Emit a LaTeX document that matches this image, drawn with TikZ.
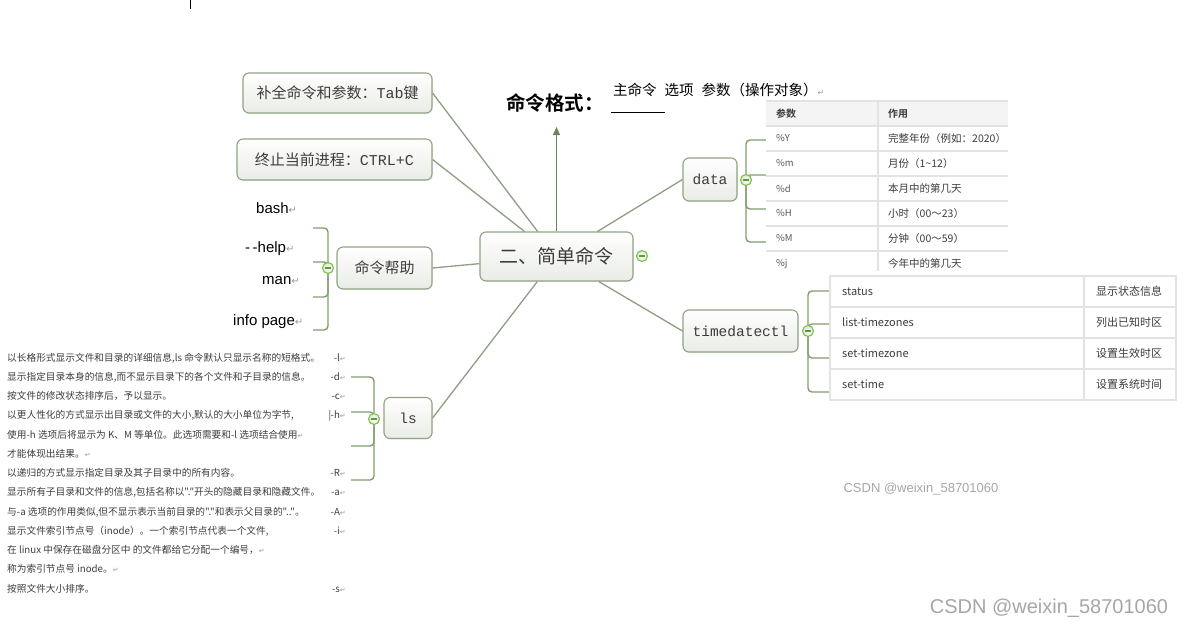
\documentclass[tikz,border=0pt]{standalone}
\usepackage{fontspec}
\setmainfont{Liberation Sans}
\newfontfamily\cjk{Noto Sans CJK SC}
\newfontfamily\cjkb{Noto Sans CJK SC Bold}
\newfontfamily\monof{Liberation Mono}
\newfontfamily\symf{DejaVu Sans}
\usetikzlibrary{arrows.meta,positioning,calc,shadows}
\definecolor{topicline}{HTML}{8FA382}
\definecolor{topicbot}{HTML}{E9ECE6}
\definecolor{linkgreen}{HTML}{8E9E82}
\definecolor{brkgreen}{HTML}{7F9C6C}
\definecolor{foldgreen}{HTML}{7DBE4E}
\definecolor{inkgray}{HTML}{3C3C3C}
\definecolor{retgray}{HTML}{9A9A9A}
\definecolor{tblgray}{HTML}{E3E3E3}
\definecolor{headgray}{HTML}{F4F4F4}
\definecolor{wmgray}{HTML}{A6A6A6}
\newcommand{\ret}[1][7]{{\color{retgray}\symf\fontsize{#1}{#1}\selectfont ↵}}
\tikzset{
  topicbox/.style={draw=topicline, line width=1.1pt, rounded corners=6pt,
                   top color=white, bottom color=topicbot, inner sep=0pt,
                   text=inkgray, font=\cjk\fontsize{15}{18}\selectfont,
                   drop shadow={opacity=0.12, shadow xshift=1pt, shadow yshift=-1pt}},
  monobox/.style={topicbox, font=\monof\fontsize{14.5}{16}\selectfont},
  foldbtn/.style={circle, draw=foldgreen, line width=1.1pt, inner color=white,
                  outer color=foldgreen!30, minimum size=11pt, inner sep=0pt,
                  path picture={\draw[foldgreen!80!black, line width=1.5pt]
                    ([xshift=-3pt]path picture bounding box.center) --
                    ([xshift=3pt]path picture bounding box.center);}},
  link/.style={draw=linkgreen, line width=1.3pt},
  brk/.style={draw=brkgreen, line width=1.4pt, rounded corners=4pt},
  uparr/.style={-{Triangle[length=8pt,width=7pt]}, line width=1.3pt, draw=brkgreen!85!black},
  leaf/.style={inner sep=0pt, text=black, font=\fontsize{15}{18}\selectfont},
  lstext/.style={inner sep=0pt, text=inkgray, font=\cjk\fontsize{9.7}{11}\selectfont},
  tblline/.style={draw=tblgray, line width=1.5pt},
  cellhead/.style={anchor=west, inner sep=0pt, text=inkgray, font=\cjkb\fontsize{10}{12}\selectfont},
  cellkey/.style={anchor=west, inner sep=0pt, text=inkgray!85, font=\cjk\fontsize{9.5}{11}\selectfont},
  cellval/.style={anchor=west, inner sep=0pt, text=inkgray, font=\cjk\fontsize{10.5}{12}\selectfont},
  tdccell/.style={anchor=west, inner sep=0pt, text=inkgray, font=\cjk\fontsize{11}{13}\selectfont},
  wm/.style={inner sep=0pt, text=wmgray}}
\begin{document}
\begin{tikzpicture}[x=1pt,y=-1pt]
\useasboundingbox (0,0) rectangle (1184,627);
\draw[line width=0.8pt] (190,0) -- (190,9);

% topics
\node[topicbox, minimum width=153pt, minimum height=49pt,
      font=\cjk\fontsize{19}{22}\selectfont] (main) at (556.5,256.5) {二、简单命令};
\node[topicbox, minimum width=189pt, minimum height=40pt] (tab) at (337.5,93)
  {补全命令和参数：{\monof Tab}键};
\node[topicbox, minimum width=195pt, minimum height=41pt] (ctrl) at (334.5,159.5)
  {终止当前进程：{\monof CTRL+C}};
\node[topicbox, minimum width=95pt, minimum height=42pt] (help) at (384.5,268) {命令帮助};
\node[monobox, minimum width=48pt, minimum height=41pt] (ls) at (408,418) {ls};
\node[monobox, minimum width=54pt, minimum height=43pt] (data) at (710,179.5) {data};
\node[monobox, minimum width=115pt, minimum height=42pt] (tdc) at (740.5,331) {timedatectl};

\draw[link] (tab.east) -- (main);
\draw[link] (ctrl.east) -- (main);
\draw[link] (help.east) -- (main);
\draw[link] (ls.east) -- (main);
\draw[link] (main) -- (data.west);
\draw[link] (main) -- (tdc.west);

% command format
\coordinate (fmttip) at (556.5,127);
\draw[uparr] (main.north) -- (fmttip);
\node[anchor=base west, inner sep=0pt, font=\cjkb\fontsize{19.5}{22}\selectfont] (fmt) at (506,110) {命令格式：};
\draw[line width=1pt] (611,112) -- (665,112);
\node[anchor=base west, inner sep=0pt, font=\cjk\fontsize{14.5}{16}\selectfont] (syn) at (613,95)
  {主命令\hspace{8pt}选项\hspace{8pt}参数（操作对象）\ret[8]};

% branch brackets
\coordinate (helproot) at (328,268);
\coordinate (lsroot) at (374,419);
\coordinate (dataroot) at (746,180);
\coordinate (tdcroot) at (808,331);
\foreach \y [count=\i] in {228,262,297,330} {
  \coordinate (hleaf\i) at (313,\y);
  \draw[brk] (helproot) |- (hleaf\i);
}
\foreach \y [count=\i] in {377,412,446,480} {
  \coordinate (lleaf\i) at (351,\y);
  \draw[brk] (lsroot) |- (lleaf\i);
}
\foreach \y [count=\i] in {140,175,209,242} {
  \coordinate (dleaf\i) at (768,\y);
  \draw[brk] (dataroot) |- (dleaf\i);
}
\foreach \y [count=\i] in {291,324,358,392} {
  \coordinate (tleaf\i) at (832,\y);
  \draw[brk] (tdcroot) |- (tleaf\i);
}
\node[foldbtn] (mainfold) at (642,256) {};
\node[foldbtn] (helpfold) at (helproot) {};
\node[foldbtn] (lsfold) at (lsroot) {};
\node[foldbtn] (datafold) at (dataroot) {};
\node[foldbtn] (tdcfold) at (tdcroot) {};

% help leaves
\node[leaf, anchor=base west] (hbash) at (256,213.5) {bash\ret[10]};
\node[leaf, anchor=base west] (hhelp) at (245,252) {-\,-help\ret[10]};
\node[leaf, anchor=base west] (hman) at (262,284.5) {man\ret[10]};
\node[leaf, anchor=base west] (hinfo) at (233,325) {info page\ret[10]};

% date table
\fill[white] (766,101) rectangle (1008,271);
\fill[headgray] (766,101) rectangle (1008,126);
\draw[tblline] (766,101) -- (1008,101);
\foreach \y in {126,151,176,201,226,251} \draw[tblline] (766,\y) -- (1008,\y);
\draw[tblline] (878,101) -- (878,271);
\node[cellhead] (dh1) at (776,113.5) {参数};
\node[cellhead] (dh2) at (888,113.5) {作用};
\foreach \k/\v [count=\i] in {\%Y/{完整年份（例如：2020）}, \%m/{月份（1\textasciitilde12）},
    \%d/{本月中的第几天}, \%H/{小时（00～23）}, \%M/{分钟（00～59）}, \%j/{今年中的第几天}} {
  \node[cellkey] (dk\i) at (776,113.5+25*\i) {\k};
  \node[cellval] (dv\i) at (888,113.5+25*\i) {\v};
}

% timedatectl table
\draw[tblline, fill=white] (830,276) rectangle (1176,400);
\foreach \y in {307,338,369} \draw[tblline] (830,\y) -- (1176,\y);
\draw[tblline] (1084,276) -- (1084,400);
\foreach \k/\v [count=\i] in {status/显示状态信息, list-timezones/列出已知时区,
    set-timezone/设置生效时区, set-time/设置系统时间} {
  \node[tdccell] (tk\i) at (842,260.5+31*\i) {\k};
  \node[tdccell] (tv\i) at (1096,260.5+31*\i) {\v};
}

% ls options
\foreach \t/\o [count=\i] in {
    {以长格形式显示文件和目录的详细信息,ls 命令默认只显示名称的短格式。}/{-l\ret},
    {显示指定目录本身的信息,而不显示目录下的各个文件和子目录的信息。}/{-d\ret},
    {按文件的修改状态排序后，予以显示。}/{-c\ret},
    {以更人性化的方式显示出目录或文件的大小,默认的大小单位为字节,}/{|\kern-0.5pt-h\ret},
    {使用-h 选项后将显示为 K、M 等单位。此选项需要和-l 选项结合使用\ret}/{},
    {才能体现出结果。\ret}/{},
    {以递归的方式显示指定目录及其子目录中的所有内容。}/{-R\ret},
    {显示所有子目录和文件的信息,包括名称以"."开头的隐藏目录和隐藏文件。}/{-a\ret},
    {与-a 选项的作用类似,但不显示表示当前目录的"."和表示父目录的".."。}/{-A\ret},
    {显示文件索引节点号（inode）。一个索引节点代表一个文件,}/{-i\ret},
    {在 linux 中保存在磁盘分区中 的文件都给它分配一个编号，\ret}/{},
    {称为索引节点号 inode。\ret}/{},
    {按照文件大小排序。}/{-s\ret}} {
  \node[lstext, anchor=base west] (lt\i) at (7,341.75+19.25*\i) {\t};
  \node[lstext, anchor=base east] (lo\i) at (346,341.75+19.25*\i) {\o};
}

% watermarks
\node[wm, font=\fontsize{13}{15}\selectfont] (wm1) at (921,489) {CSDN @weixin\_58701060};
\node[wm, font=\fontsize{20}{22}\selectfont] (wm2) at (1049,608) {CSDN @weixin\_58701060};
\end{tikzpicture}
\end{document}
